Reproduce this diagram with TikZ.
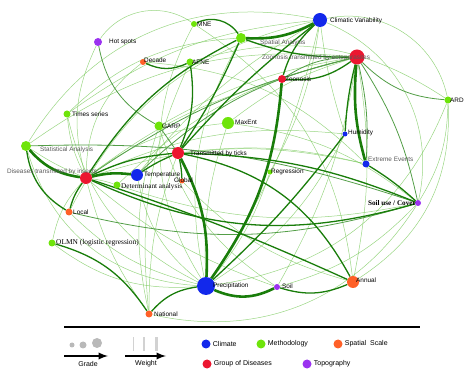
\documentclass[tikz,border=0pt]{standalone}
\usepackage{fontspec}
\setmainfont{Liberation Sans}
\newfontfamily\timesfont{Liberation Serif}
\usetikzlibrary{backgrounds,positioning}
\definecolor{climate}{RGB}{18,40,235}
\definecolor{method}{RGB}{110,228,10}
\definecolor{scale}{RGB}{255,96,40}
\definecolor{disease}{RGB}{236,22,48}
\definecolor{topo}{RGB}{155,50,240}
\definecolor{linkdark}{RGB}{25,125,10}
\definecolor{linklight}{RGB}{120,200,90}

\begin{document}
\begin{tikzpicture}
    [
    x=1pt, y=-1pt,
    every node/.style={font=\fontsize{6.4}{7}\selectfont},
    vertex/.style={circle, inner sep=0pt},
    tag/.style={anchor=west, inner sep=0pt},
    soft/.style={text=black!65},
    weak/.style={linklight, line width=0.5pt, opacity=0.75},
    medium/.style={linkdark!75!white, line width=0.8pt},
    strong/.style={linkdark, line width=1.3pt},
    heavy/.style={linkdark, line width=2.6pt},
    legarrow/.style={->, >=latex, line width=2.2pt},
    key/.style={inner sep=0pt, font=\fontsize{7}{8}\selectfont}
    ]

    \useasboundingbox (0,0) rectangle (474,379);

% Climate
    \node[vertex, fill=climate, minimum size=14] (cv) at (320,20) {};
    \node[vertex, fill=climate, minimum size=5] (hum) at (345,134) {};
    \node[vertex, fill=climate, minimum size=7] (ext) at (366,164) {};
    \node[vertex, fill=climate, minimum size=12] (temp) at (137,175) {};
    \node[vertex, fill=climate, minimum size=18] (prec) at (206,286) {};

% Group of diseases
    \node[vertex, fill=disease, minimum size=15] (zep) at (357,57) {};
    \node[vertex, fill=disease, minimum size=8] (zoo) at (282,79) {};
    \node[vertex, fill=disease, minimum size=12] (tick) at (178,153) {};
    \node[vertex, fill=disease, minimum size=12] (ins) at (86,178) {};

% Methodology
    \node[vertex, fill=method, minimum size=6] (mne) at (194,24) {};
    \node[vertex, fill=method, minimum size=10] (spa) at (241,38) {};
    \node[vertex, fill=method, minimum size=7] (afne) at (190,62) {};
    \node[vertex, fill=method, minimum size=7] (ard) at (448,100) {};
    \node[vertex, fill=method, minimum size=7] (tim) at (67,114) {};
    \node[vertex, fill=method, minimum size=9] (garp) at (159,126) {};
    \node[vertex, fill=method, minimum size=12] (maxent) at (228,123) {};
    \node[vertex, fill=method, minimum size=10] (sta) at (26,146) {};
    \node[vertex, fill=method, minimum size=5] (reg) at (270,172) {};
    \node[vertex, fill=method, minimum size=7] (det) at (117,185) {};
    \node[vertex, fill=method, minimum size=7] (olmn) at (52,243) {};

% Spatial scale
    \node[vertex, fill=scale, minimum size=6] (dec) at (143,62) {};
    \node[vertex, fill=scale, minimum size=5] (glob) at (182,181) {};
    \node[vertex, fill=scale, minimum size=7] (loc) at (69,212) {};
    \node[vertex, fill=scale, minimum size=12] (ann) at (353,282) {};
    \node[vertex, fill=scale, minimum size=7] (nat) at (149,314) {};

% Topography
    \node[vertex, fill=topo, minimum size=8] (hot) at (98,42) {};
    \node[vertex, fill=topo, minimum size=6] (soilc) at (418,203) {};
    \node[vertex, fill=topo, minimum size=6] (soil) at (277,287) {};

% Labels
    \node[tag] (cv-txt) at (330,21) {Climatic Variability};
    \node[tag] (mne-txt) at (197,24) {MNE};
    \node[tag, soft] (spa-txt) at (260,43) {Spatial Analysis};
    \node[tag] (hot-txt) at (109,42) {Hot spots};
    \node[tag] (dec-txt) at (144,60) {Decade};
    \node[tag] (afne-txt) at (192,62) {AFNE};
    \node[tag, soft] (zep-txt) at (262,58) {Zoonosis transmitted by ectoparasites};
    \node[tag] (zoo-txt) at (285,79) {Zoonosis};
    \node[tag] (ard-txt) at (450,100) {ARD};
    \node[tag] (tim-txt) at (72,114) {Times series};
    \node[tag] (garp-txt) at (162,126) {GARP};
    \node[tag] (maxent-txt) at (235,122) {MaxEnt};
    \node[tag] (hum-txt) at (348,133) {Humidity};
    \node[tag, soft] (sta-txt) at (40,150) {Statistical Analysis};
    \node[tag] (tick-txt) at (190,154) {Transmitted by ticks};
    \node[tag, soft] (ext-txt) at (368,159) {Extreme Events};
    \node[tag] (reg-txt) at (271,172) {Regression};
    \node[tag, soft] (ins-txt) at (7,172) {Diseases transmitted by insects};
    \node[tag] (temp-txt) at (144,175) {Temperature};
    \node[tag] (glob-txt) at (174,180) {Global};
    \node[tag, font=\timesfont\fontsize{7.2}{8}\selectfont] (det-txt) at (121,187) {Determinant analysis};
    \node[tag, anchor=east, font=\timesfont\bfseries\fontsize{7.2}{8}\selectfont] (soilc-txt) at (416,203) {Soil use / Cover};
    \node[tag] (loc-txt) at (73,212) {Local};
    \node[tag, font=\timesfont\fontsize{7.4}{8}\selectfont] (olmn-txt) at (56,243) {OLMN (logistic regression)};
    \node[tag] (prec-txt) at (213,286) {Precipitation};
    \node[tag] (soil-txt) at (282,286) {Soil};
    \node[tag] (ann-txt) at (356,280) {Annual};
    \node[tag] (nat-txt) at (154,314) {National};

% Links
    \begin{scope}[on background layer]
    \draw[weak] (hot) to[bend left=45] (mne);
    \draw[weak] (hot) to[bend right=20] (ins);
    \draw[weak] (tim) to[bend left=20] (spa);
    \draw[weak] (tim) to[bend left=15] (cv);
    \draw[weak] (tim) to[bend right=25] (prec);
    \draw[weak] (tim) to[bend right=10] (ins);
    \draw[weak] (sta) to[bend left=35] (cv);
    \draw[weak] (sta) to[bend left=20] (zep);
    \draw[weak] (sta) to[bend right=35] (prec);
    \draw[weak] (sta) to[bend right=5] (ins);
    \draw[weak] (dec) to[bend right=25] (ins);
    \draw[weak] (dec) to[bend left=20] (ext);
    \draw[weak] (mne) to[bend right=30] (prec);
    \draw[weak] (mne) to[bend left=25] (ann);
    \draw[weak] (afne) to[bend left=25] (ard);
    \draw[weak] (afne) to[bend right=15] (nat);
    \draw[weak] (cv) to[bend left=45] (ard);
    \draw[weak] (cv) to[bend right=5] (hum);
    \draw[weak] (cv) to[bend left=10] (prec);
    \draw[weak] (cv) to[bend left=40] (soilc);
    \draw[weak] (garp) to[bend left=10] (zep);
    \draw[weak] (garp) to[bend right=15] (nat);
    \draw[weak] (garp) to[bend right=20] (soil);
    \draw[weak] (maxent) to[bend left=10] (zep);
    \draw[weak] (maxent) to[bend right=15] (ins);
    \draw[weak] (maxent) to[bend right=10] (prec);
    \draw[weak] (maxent) to[bend left=15] (soilc);
    \draw[weak] (hum) to[bend left=15] (prec);
    \draw[weak] (hum) to[bend right=15] (ins);
    \draw[weak] (reg) to[bend left=10] (prec);
    \draw[weak] (reg) to[bend right=10] (cv);
    \draw[weak] (glob) to[bend right=15] (ann);
    \draw[weak] (det) to[bend right=5] (ins);
    \draw[weak] (det) to[bend left=15] (zep);
    \draw[weak] (det) to[bend right=15] (soilc);
    \draw[weak] (olmn) to[bend left=15] (ins);
    \draw[weak] (olmn) to[bend right=20] (prec);
    \draw[weak] (loc) to[bend right=15] (prec);
    \draw[weak] (loc) to[bend left=25] (cv);
    \draw[weak] (nat) to[bend left=10] (ins);
    \draw[weak] (nat) to[bend left=10] (tick);
    \draw[weak] (soil) to[bend right=10] (zep);
    \draw[weak] (soil) to[bend left=10] (ins);
    \draw[weak] (soil) to[bend right=15] (soilc);
    \draw[weak] (ann) to[bend right=10] (zep);
    \draw[weak] (ann) to[bend right=30] (ard);
    \draw[weak] (ard) to[bend left=30] (prec);
    \draw[weak] (ard) to[bend left=15] (soilc);
    \draw[weak] (ext) to[bend right=10] (tick);
    \draw[weak] (ext) to[bend right=15] (ins);
    \draw[weak] (soilc) to[bend left=35] (nat);
    \draw[weak] (temp) to[bend right=20] (prec);
    \draw[weak] (temp) to[bend left=10] (cv);
    \draw[weak] (spa) to[bend right=20] (prec);
    \draw[weak] (zoo) to[bend right=10] (ins);

    \draw[medium] (tick) -- (garp);
    \draw[medium] (ins) to[bend left=10] (zep);
    \draw[medium] (zoo) to[bend left=15] (zep);
    \draw[medium] (zep) to[bend left=8] (ext);
    \draw[medium] (zep) to[bend right=20] (ard);
    \draw[medium] (zep) to[bend left=10] (soilc);
    \draw[medium] (hot) to[bend right=25] (garp);
    \draw[medium] (temp) to[bend left=15] (zep);
    \draw[medium] (loc) to[bend right=15] (soilc);
    \draw[medium] (sta) to[bend left=10] (soilc);

    \draw[strong] (sta) to[bend right=25] (loc);
    \draw[strong] (ins) to[bend right=10] (loc);
    \draw[strong] (ins) to[bend left=10] (tick);
    \draw[strong] (ins) to[bend left=15] (spa);
    \draw[strong] (ins) to[bend right=20] (soilc);
    \draw[strong] (ins) to[bend left=3] (ann);
    \draw[strong] (tick) to[bend left=5] (glob);
    \draw[strong] (tick) to[bend left=5] (cv);
    \draw[strong] (tick) to[bend right=5] (spa);
    \draw[strong] (tick) to[bend left=10] (soilc);
    \draw[strong] (tick) to[bend left=25] (ann);
    \draw[strong] (mne) to[bend left=40] (spa);
    \draw[strong] (spa) to[bend right=10] (zep);
    \draw[strong] (zep) to[bend left=20] (zoo);
    \draw[strong] (zep) to[bend right=5] (hum);
    \draw[strong] (zoo) to[bend left=15] (cv);
    \draw[strong] (afne) to[bend left=15] (tick);
    \draw[strong] (dec) to[bend right=25] (afne);
    \draw[strong] (prec) to[bend right=20] (nat);
    \draw[strong] (prec) to[bend right=5] (hum);
    \draw[strong] (soil) to[bend right=20] (ann);
    \draw[strong] (nat) to[bend right=20] (olmn);
    \draw[strong] (ext) to[bend left=5] (soilc);
    \draw[strong] (temp) to[bend left=5] (tick);

    \draw[heavy] (sta) to[bend right=20] (ins);
    \draw[heavy] (ins) to[bend left=10] (temp);
    \draw[heavy] (tick) to[bend left=15] (prec);
    \draw[heavy] (cv) to[bend left=15] (spa);
    \draw[heavy] (zep) to[bend right=10] (ext);
    \draw[heavy] (zoo) to[bend left=15] (prec);
    \draw[heavy] (prec) to[bend right=25] (soil);
    \end{scope}

% Legend
    \draw[line width=2.5pt] (64,327) -- (420,327);
    \fill[gray!55] (72,345) circle (2.5pt) (83,345) circle (3.5pt) (97,343) circle (5pt);
    \draw[legarrow] (64,356) -- (108,356);
    \node[key] (grade-txt) at (88,364) {Grade};
    \fill[gray!35] (132.5,337) rectangle (133.5,351);
    \fill[gray!35] (143,337) rectangle (145,351);
    \fill[gray!35] (154.5,337) rectangle (157.5,351);
    \draw[legarrow] (125,356) -- (166,356);
    \node[key] (weight-txt) at (146,364) {Weight};

    \node[vertex, fill=climate, minimum size=9] (leg-cl) at (206,344) {};
    \node[key, right=2pt of leg-cl] (leg-cl-txt) {Climate};
    \node[vertex, fill=method, minimum size=9] (leg-me) at (261,344) {};
    \node[key, right=2pt of leg-me] (leg-me-txt) {Methodology};
    \node[vertex, fill=scale, minimum size=9] (leg-sc) at (338,344) {};
    \node[key, right=2pt of leg-sc] (leg-sc-txt) {Spatial~ Scale};
    \node[vertex, fill=disease, minimum size=9] (leg-di) at (207,364) {};
    \node[key, right=2pt of leg-di] (leg-di-txt) {Group of Diseases};
    \node[vertex, fill=topo, minimum size=9] (leg-to) at (307,364) {};
    \node[key, right=2pt of leg-to] (leg-to-txt) {Topography};

\end{tikzpicture}
\end{document}
